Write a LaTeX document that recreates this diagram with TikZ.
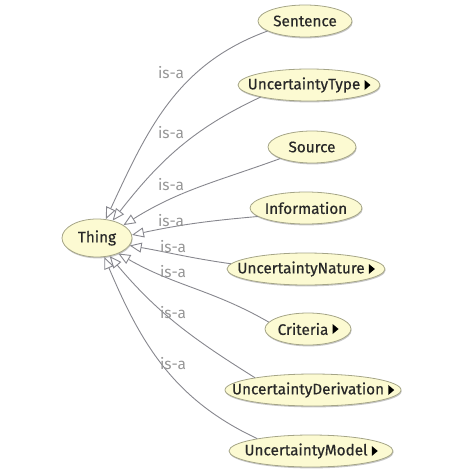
\documentclass[tikz,border=0pt]{standalone}
\usepackage{fontspec}
\setmainfont{Fira Sans}
\newfontfamily\clsfont{Fira Sans}[FakeBold=0.4]
\usetikzlibrary{arrows.meta,shadows,shapes.geometric}
\definecolor{nodefill}{RGB}{252,250,210}
\definecolor{nodeborder}{RGB}{165,165,135}
\definecolor{edgecol}{RGB}{135,135,142}
\definecolor{labelcol}{RGB}{150,150,150}
\definecolor{textcol}{RGB}{40,40,40}
\tikzset{
  cls/.style={ellipse, draw=nodeborder, fill=nodefill, line width=0.8pt, inner sep=0pt,
    minimum height=32pt,
    general shadow={shadow xshift=0.6pt, shadow yshift=-1.4pt, fill=black, opacity=0.22}},
  clstext/.style={inner sep=0pt, text=textcol, font=\clsfont\fontsize{15.3}{17}\selectfont},
  isa/.style={draw=edgecol, line width=0.9pt,
    -{Triangle[open, length=12pt, width=10pt, fill=white]}},
  isalbl/.style={text=labelcol, inner sep=0pt, font=\fontsize{15.5}{17}\selectfont},
  more/.style={fill=black}
}
\begin{document}
\begin{tikzpicture}[x=1pt,y=-1pt]
\useasboundingbox (0,0) rectangle (474,474);
% class ellipses
\node[cls, minimum width=70pt, minimum height=38pt] (thing) at (97,238) {};
\node[cls, minimum width=94pt] (sent) at (305,21) {};
\node[cls, minimum width=142pt] (typ) at (309,85) {};
\node[cls, minimum width=88pt] (src) at (312,147) {};
\node[cls, minimum width=112pt] (info) at (306,208) {};
\node[cls, minimum width=158pt] (nat) at (306,269) {};
\node[cls, minimum width=86pt] (crit) at (308,329) {};
\node[cls, minimum width=176pt] (der) at (313,390) {};
\node[cls, minimum width=164pt] (mod) at (311,451) {};
% texts
\node[clstext] (thingT) at (thing) {Thing};
\node[clstext] (sentT) at (sent) {Sentence};
\node[clstext] (typT) at (typ) {UncertaintyType\kern10pt};
\node[clstext] (srcT) at (src) {Source};
\node[clstext] (infoT) at (info) {Information};
\node[clstext] (natT) at (nat) {UncertaintyNature\kern10pt};
\node[clstext] (critT) at (crit) {Criteria\kern10pt};
\node[clstext] (derT) at (der) {UncertaintyDerivation\kern10pt};
\node[clstext] (modT) at (mod) {UncertaintyModel\kern10pt};
% expansion triangles
\foreach \n in {typT,natT,critT,derT,modT}{
  \fill[more] ([xshift=-6pt,yshift=5pt]\n.east) -- ++(0,10) -- ++(6,-5) -- cycle;
}
% is-a edges
\draw[isa] (sent.195) to[out=200,in=65] (thing.65);
\draw[isa] (typ.194) to[out=205,in=52] (thing.48);
\draw[isa] (src.200) to[out=200,in=32] (thing.26);
\draw[isa] (info.190) to[out=185,in=12] (thing.5);
\draw[isa] (nat.176) to[out=172,in=-10] (thing.-13);
\draw[isa] (crit.170) to[out=150,in=-30] (thing.-36);
\draw[isa] (der.168) to[out=148,in=-50] (thing.-55);
\draw[isa] (mod.167) to[out=155,in=-67] (thing.-69);
% labels
\node[isalbl] (l1) at (171,73) {is-a};
\node[isalbl] (l2) at (171,133) {is-a};
\node[isalbl] (l3) at (171,185) {is-a};
\node[isalbl] (l4) at (171,221) {is-a};
\node[isalbl] (l5) at (173,247) {is-a};
\node[isalbl] (l6) at (173,272) {is-a};
\node[isalbl] (l7) at (173,313) {is-a};
\node[isalbl] (l8) at (173,364) {is-a};
\end{tikzpicture}
\end{document}
